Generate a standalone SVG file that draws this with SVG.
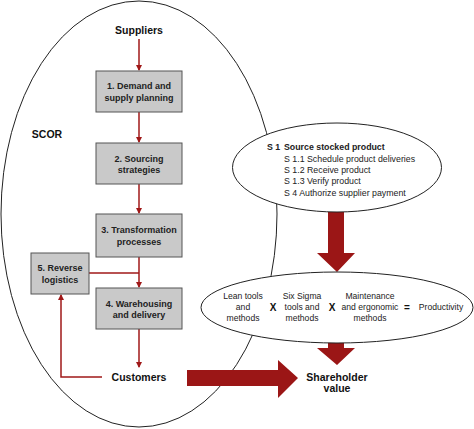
<svg xmlns="http://www.w3.org/2000/svg" width="474" height="429" viewBox="0 0 474 429">
<style>
.box{fill:#c9c9c9;stroke:#555;stroke-width:1}
.bt{font-family:"Liberation Sans",Arial,sans-serif;font-size:9px;font-weight:bold;fill:#222;text-anchor:middle}
.lb{font-family:"Liberation Sans",Arial,sans-serif;font-size:10.5px;font-weight:bold;fill:#111;text-anchor:middle}
.st{font-family:"Liberation Sans",Arial,sans-serif;font-size:8.8px;fill:#222}
.pt{font-family:"Liberation Sans",Arial,sans-serif;font-size:8.6px;fill:#222;text-anchor:middle}
.op{font-family:"Liberation Sans",Arial,sans-serif;font-size:10px;font-weight:bold;fill:#111;text-anchor:middle}
.ln{fill:none;stroke:#a01818;stroke-width:1.5}
.big{fill:#9b1616}
.ell{fill:#fff;stroke:#222;stroke-width:1}
</style>
<defs>
<marker id="ah" markerWidth="6" markerHeight="6" refX="5" refY="3" orient="auto" markerUnits="userSpaceOnUse">
<path d="M0,0 L6,3 L0,6 Z" fill="#a01818"/>
</marker>
</defs>
<rect width="474" height="429" fill="#fff"/>
<g id="scor">
<ellipse cx="139" cy="214" rx="138" ry="213" fill="none" stroke="#222" stroke-width="1"/>
<text class="lb" x="47" y="138">SCOR</text>
</g>
<g id="big-arrows">
<path class="big" d="M328,210 H344 V253 H355 L337,272 L317,253 H328 Z"/>
<path class="big" d="M328,340 H344 V348 H355 L337,365 L317,348 H328 Z"/>
<path class="big" d="M187,370 H278 V360 L298,378 L278,398 V386 H187 Z"/>
</g>
<g id="connectors">
<line class="ln" x1="139" y1="39" x2="139" y2="70" marker-end="url(#ah)"/>
<line class="ln" x1="139" y1="112" x2="139" y2="142" marker-end="url(#ah)"/>
<line class="ln" x1="139" y1="184" x2="139" y2="213" marker-end="url(#ah)"/>
<line class="ln" x1="139" y1="257" x2="139" y2="287" marker-end="url(#ah)"/>
<line class="ln" x1="89" y1="273" x2="139" y2="273"/>
<line class="ln" x1="139" y1="329" x2="139" y2="367" marker-end="url(#ah)"/>
<polyline class="ln" points="102,377 61,377 61,295" marker-end="url(#ah)"/>
</g>
<g id="suppliers"><text class="lb" x="139" y="34">Suppliers</text></g>
<g id="box1"><rect class="box" x="96" y="71" width="86" height="41"/><text class="bt" x="139" y="89">1. Demand and</text><text class="bt" x="139" y="101">supply planning</text></g>
<g id="box2"><rect class="box" x="96" y="143" width="86" height="41"/><text class="bt" x="139" y="161.5">2. Sourcing</text><text class="bt" x="139" y="173">strategies</text></g>
<g id="box3"><rect class="box" x="96" y="214" width="86" height="43"/><text class="bt" x="139" y="233">3. Transformation</text><text class="bt" x="139" y="245">processes</text></g>
<g id="box4"><rect class="box" x="96" y="288" width="86" height="41"/><text class="bt" x="139" y="306.5">4. Warehousing</text><text class="bt" x="139" y="318">and delivery</text></g>
<g id="box5"><rect class="box" x="31" y="253" width="58" height="41"/><text class="bt" x="60" y="271">5. Reverse</text><text class="bt" x="60" y="282.5">logistics</text></g>
<g id="customers"><text class="lb" x="139" y="381">Customers</text></g>
<g id="source">
<ellipse class="ell" cx="337" cy="167.5" rx="104.5" ry="44.5"/>
<text class="st" y="150" font-weight="bold" font-size="9.2"><tspan x="267">S 1</tspan><tspan x="284">Source stocked product</tspan></text>
<text class="st" x="284" y="162">S 1.1 Schedule product deliveries</text>
<text class="st" x="284" y="173">S 1.2 Receive product</text>
<text class="st" x="284" y="184">S 1.3 Verify product</text>
<text class="st" x="284" y="195.5">S 4 Authorize supplier payment</text>
</g>
<g id="productivity">
<ellipse class="ell" cx="337" cy="307.5" rx="136" ry="35.5"/>
<text class="pt" x="243" y="299">Lean tools</text><text class="pt" x="243" y="310">and</text><text class="pt" x="243" y="321">methods</text>
<text class="op" x="273" y="311">X</text>
<text class="pt" x="302" y="299">Six Sigma</text><text class="pt" x="302" y="310">tools and</text><text class="pt" x="302" y="321">methods</text>
<text class="op" x="332" y="311">X</text>
<text class="pt" x="370" y="299">Maintenance</text><text class="pt" x="370" y="310">and ergonomic</text><text class="pt" x="370" y="321">methods</text>
<text class="op" x="407" y="311">=</text>
<text class="pt" x="441" y="310">Productivity</text>
</g>
<g id="shareholder"><text class="lb" x="337" y="381">Shareholder</text><text class="lb" x="337" y="392">value</text></g>
</svg>
